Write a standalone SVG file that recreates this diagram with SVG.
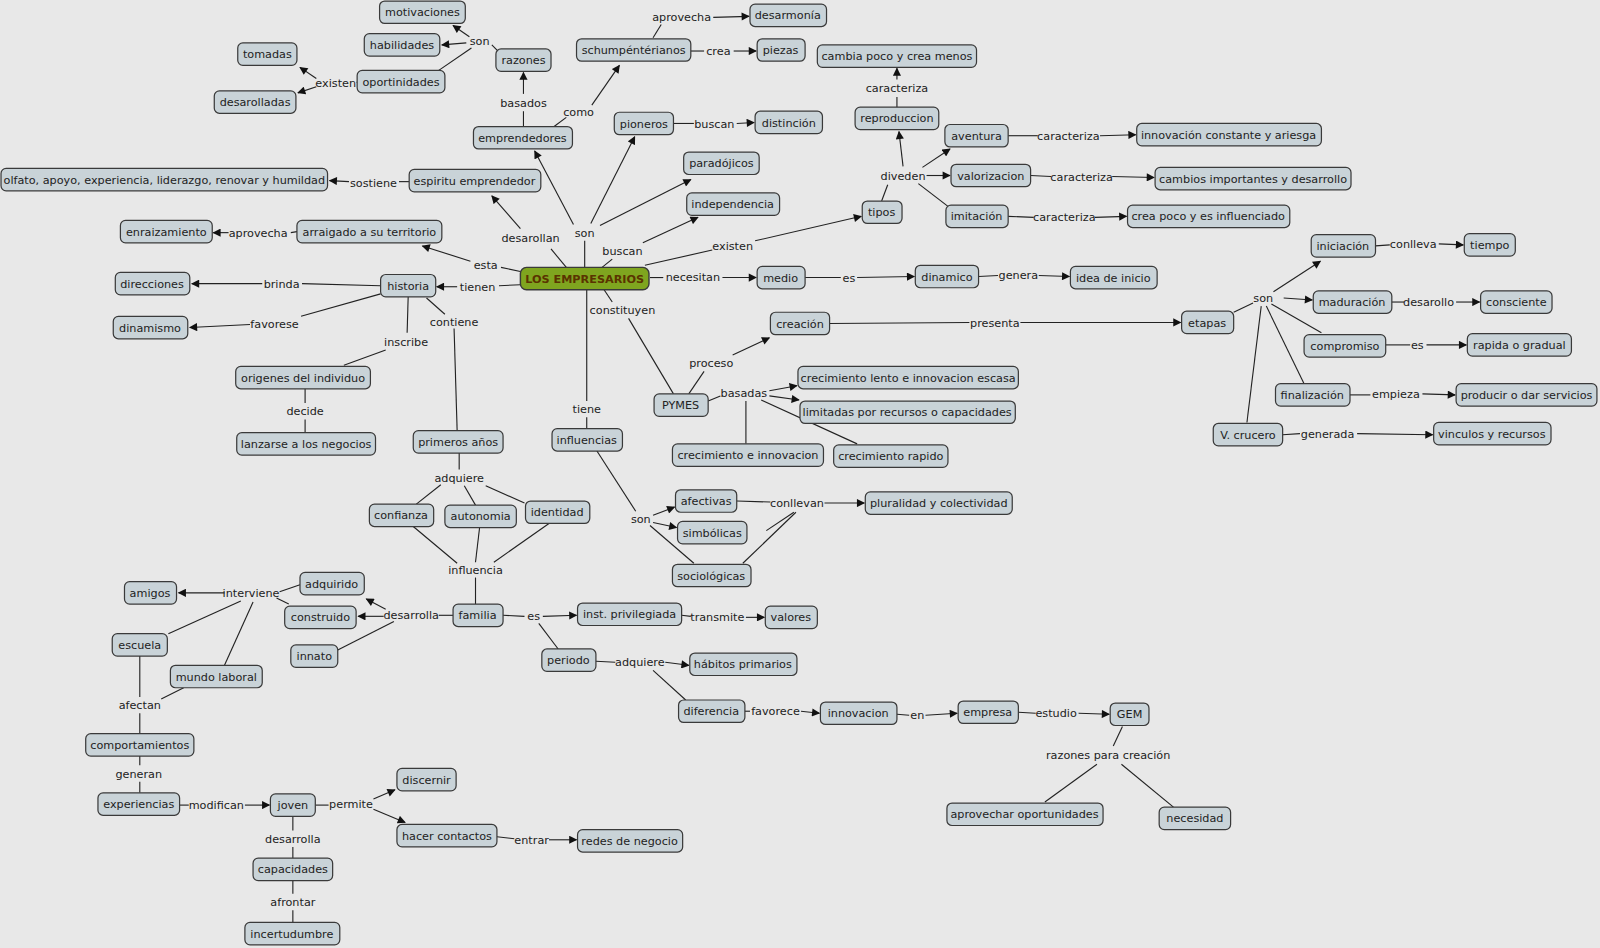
<svg xmlns="http://www.w3.org/2000/svg" width="1600" height="948" viewBox="0 0 1600 948">
<style>
.n rect{fill:#c9d3d8;stroke:#3a3a3a;stroke-width:1.2}
.n text,.l{font-family:"DejaVu Sans",Verdana,sans-serif;font-size:11px;fill:#222;text-anchor:middle}
.m rect{fill:#7fa51f;stroke:#3a3a3a;stroke-width:1.4}
.m text{font-family:"DejaVu Sans",sans-serif;font-size:11px;font-weight:bold;fill:#5a3300;text-anchor:middle}
#c line{stroke:#222;stroke-width:1.1}
#c line.a{marker-end:url(#ar)}
</style>
<defs><marker id="ar" viewBox="0 0 10 10" refX="9" refY="5" markerWidth="9" markerHeight="8" markerUnits="userSpaceOnUse" orient="auto"><path d="M0,0L10,5L0,10z" fill="#111"/></marker></defs>
<rect width="1600" height="948" fill="#e8e8e8"/>
<g transform="scale(1.0204)">
<g id="c">
<line x1="490" y1="52" x2="482" y2="44"/><line class="a" x1="460" y1="36" x2="444" y2="25"/><line class="a" x1="457" y1="42" x2="433" y2="44"/><line x1="462" y1="47" x2="430" y2="69"/>
<line x1="350" y1="80" x2="350" y2="81"/><line class="a" x1="310" y1="77" x2="294" y2="66"/><line class="a" x1="310" y1="85" x2="292" y2="91"/>
<line x1="513" y1="124" x2="513" y2="109"/><line class="a" x1="513" y1="92" x2="513" y2="71"/>
<line x1="543" y1="124" x2="555" y2="115"/><line class="a" x1="580" y1="103" x2="607" y2="64"/>
<line x1="640" y1="37" x2="648" y2="24"/><line class="a" x1="699" y1="17" x2="734" y2="16"/>
<line x1="677" y1="50" x2="690" y2="50"/><line class="a" x1="719" y1="50" x2="741" y2="50"/>
<line x1="879" y1="105" x2="879" y2="95"/><line class="a" x1="879" y1="78" x2="879" y2="67"/>
<line x1="573" y1="262" x2="573" y2="236"/><line class="a" x1="562" y1="220" x2="524" y2="148"/><line class="a" x1="579" y1="219" x2="622" y2="134"/><line class="a" x1="588" y1="221" x2="677" y2="176"/>
<line x1="590" y1="262" x2="600" y2="254"/><line class="a" x1="630" y1="238" x2="684" y2="213"/>
<line x1="555" y1="262" x2="540" y2="244"/><line class="a" x1="510" y1="224" x2="482" y2="192"/>
<line x1="401" y1="178" x2="391" y2="178"/><line class="a" x1="342" y1="178" x2="323" y2="177"/>
<line x1="510" y1="266" x2="491" y2="262"/><line class="a" x1="461" y1="256" x2="414" y2="241"/>
<line x1="291" y1="227" x2="285" y2="228"/><line class="a" x1="224" y1="228" x2="209" y2="228"/>
<line x1="510" y1="279" x2="489" y2="280"/><line class="a" x1="448" y1="281" x2="428" y2="281"/>
<line x1="660" y1="121" x2="680" y2="121"/><line class="a" x1="722" y1="121" x2="739" y2="120"/>
<line x1="632" y1="260" x2="698" y2="245"/><line class="a" x1="740" y1="236" x2="844" y2="212"/>
<line x1="864" y1="197" x2="870" y2="181"/><line class="a" x1="885" y1="163" x2="881" y2="129"/><line class="a" x1="904" y1="164" x2="931" y2="146"/><line class="a" x1="908" y1="172" x2="931" y2="172"/><line x1="900" y1="180" x2="930" y2="203"/>
<line x1="988" y1="133" x2="1017" y2="133"/><line class="a" x1="1078" y1="133" x2="1113" y2="132"/>
<line x1="1010" y1="172" x2="1030" y2="173"/><line class="a" x1="1090" y1="173" x2="1131" y2="174"/>
<line x1="988" y1="212" x2="1013" y2="213"/><line class="a" x1="1073" y1="213" x2="1104" y2="212"/>
<line x1="637" y1="272" x2="650" y2="272"/><line class="a" x1="708" y1="272" x2="741" y2="272"/>
<line x1="789" y1="272" x2="824" y2="272"/><line class="a" x1="840" y1="272" x2="896" y2="271"/>
<line x1="959" y1="271" x2="978" y2="270"/><line class="a" x1="1018" y1="270" x2="1048" y2="271"/>
<line x1="373" y1="280" x2="296" y2="278"/><line class="a" x1="257" y1="278" x2="188" y2="278"/>
<line x1="373" y1="288" x2="295" y2="310"/><line class="a" x1="245" y1="318" x2="186" y2="321"/>
<line x1="400" y1="291" x2="399" y2="326"/><line x1="378" y1="343" x2="337" y2="358"/>
<line x1="299" y1="381" x2="299" y2="395"/><line x1="299" y1="411" x2="299" y2="424"/>
<line x1="418" y1="292" x2="436" y2="308"/><line x1="445" y1="322" x2="448" y2="422"/>
<line x1="450" y1="444" x2="450" y2="460"/><line x1="432" y1="475" x2="408" y2="494"/><line x1="455" y1="476" x2="466" y2="495"/><line x1="476" y1="476" x2="514" y2="493"/>
<line x1="405" y1="516" x2="448" y2="552"/><line x1="470" y1="517" x2="466" y2="551"/><line x1="538" y1="513" x2="484" y2="551"/><line x1="466" y1="566" x2="466" y2="592"/>
<line x1="592" y1="284" x2="600" y2="296"/><line x1="616" y1="312" x2="660" y2="386"/>
<line x1="575" y1="284" x2="575" y2="393"/><line x1="575" y1="409" x2="575" y2="420"/>
<line x1="675" y1="386" x2="690" y2="364"/><line class="a" x1="718" y1="348" x2="754" y2="331"/>
<line x1="813" y1="317" x2="950" y2="316"/><line class="a" x1="1000" y1="316" x2="1157" y2="316"/>
<line x1="1209" y1="306" x2="1228" y2="297"/><line class="a" x1="1248" y1="286" x2="1294" y2="256"/><line class="a" x1="1258" y1="292" x2="1286" y2="294"/><line x1="1246" y1="298" x2="1295" y2="326"/><line x1="1241" y1="300" x2="1278" y2="376"/><line x1="1236" y1="300" x2="1222" y2="414"/>
<line x1="1348" y1="241" x2="1362" y2="240"/><line class="a" x1="1410" y1="239" x2="1434" y2="240"/>
<line x1="1364" y1="296" x2="1376" y2="296"/><line class="a" x1="1427" y1="296" x2="1450" y2="296"/>
<line x1="1358" y1="338" x2="1382" y2="338"/><line class="a" x1="1398" y1="338" x2="1437" y2="338"/>
<line x1="1323" y1="387" x2="1343" y2="387"/><line class="a" x1="1394" y1="386" x2="1426" y2="387"/>
<line x1="1257" y1="426" x2="1274" y2="425"/><line class="a" x1="1330" y1="425" x2="1404" y2="426"/>
<line x1="694" y1="393" x2="706" y2="388"/><line class="a" x1="754" y1="383" x2="781" y2="378"/><line class="a" x1="754" y1="388" x2="783" y2="392"/><line x1="731" y1="393" x2="731" y2="435"/><line x1="746" y1="392" x2="840" y2="435"/>
<line x1="585" y1="442" x2="623" y2="501"/><line class="a" x1="640" y1="505" x2="661" y2="497"/><line class="a" x1="640" y1="512" x2="663" y2="517"/><line x1="637" y1="515" x2="680" y2="552"/>
<line x1="722" y1="491" x2="755" y2="492"/><line x1="751" y1="520" x2="778" y2="502"/><line x1="728" y1="552" x2="780" y2="502"/><line class="a" x1="808" y1="493" x2="847" y2="493"/>
<line x1="444" y1="603" x2="430" y2="603"/><line class="a" x1="378" y1="597" x2="359" y2="587"/><line class="a" x1="376" y1="604" x2="351" y2="604"/><line x1="386" y1="609" x2="331" y2="637"/>
<line x1="493" y1="603" x2="514" y2="604"/><line class="a" x1="532" y1="604" x2="565" y2="603"/><line x1="528" y1="611" x2="547" y2="636"/>
<line x1="668" y1="603" x2="677" y2="604"/><line class="a" x1="731" y1="605" x2="749" y2="605"/>
<line x1="584" y1="648" x2="603" y2="649"/><line class="a" x1="652" y1="649" x2="675" y2="652"/><line x1="640" y1="657" x2="672" y2="686"/>
<line x1="730" y1="697" x2="735" y2="697"/><line class="a" x1="785" y1="697" x2="803" y2="699"/>
<line x1="879" y1="700" x2="891" y2="701"/><line class="a" x1="907" y1="701" x2="938" y2="699"/>
<line x1="998" y1="698" x2="1015" y2="699"/><line class="a" x1="1057" y1="699" x2="1087" y2="700"/>
<line x1="1100" y1="712" x2="1091" y2="731"/><line x1="1075" y1="749" x2="1024" y2="786"/><line x1="1099" y1="749" x2="1150" y2="791"/>
<line x1="294" y1="573" x2="274" y2="580"/><line x1="271" y1="586" x2="283" y2="592"/><line class="a" x1="220" y1="581" x2="175" y2="581"/><line x1="236" y1="589" x2="165" y2="621"/><line x1="248" y1="590" x2="220" y2="652"/>
<line x1="137" y1="643" x2="137" y2="683"/><line x1="180" y1="674" x2="158" y2="685"/><line x1="137" y1="699" x2="137" y2="719"/>
<line x1="137" y1="741" x2="137" y2="750"/><line x1="137" y1="766" x2="137" y2="777"/>
<line x1="176" y1="789" x2="185" y2="789"/><line class="a" x1="240" y1="789" x2="264" y2="789"/>
<line x1="309" y1="789" x2="322" y2="789"/><line class="a" x1="366" y1="783" x2="387" y2="774"/><line class="a" x1="366" y1="793" x2="397" y2="806"/>
<line x1="487" y1="820" x2="504" y2="822"/><line class="a" x1="538" y1="823" x2="565" y2="823"/>
<line x1="287" y1="800" x2="287" y2="814"/><line x1="287" y1="830" x2="287" y2="841"/>
<line x1="287" y1="863" x2="287" y2="876"/><line x1="287" y1="892" x2="287" y2="904"/>
</g>
<g id="labels">
<text class="l" x="470" y="44">son</text><text class="l" x="329" y="85">existen</text><text class="l" x="513" y="105">basados</text><text class="l" x="567" y="114">como</text>
<text class="l" x="668" y="21">aprovecha</text><text class="l" x="704" y="54">crea</text><text class="l" x="879" y="90">caracteriza</text><text class="l" x="573" y="232">son</text>
<text class="l" x="610" y="250">buscan</text><text class="l" x="520" y="237">desarollan</text><text class="l" x="366" y="183">sostiene</text><text class="l" x="476" y="264">esta</text>
<text class="l" x="253" y="232">aprovecha</text><text class="l" x="468" y="285">tienen</text><text class="l" x="700" y="125">buscan</text><text class="l" x="718" y="245">existen</text>
<text class="l" x="885" y="176">diveden</text><text class="l" x="1047" y="137">caracteriza</text><text class="l" x="1060" y="177">caracteriza</text><text class="l" x="1043" y="217">caracteriza</text>
<text class="l" x="679" y="275">necesitan</text><text class="l" x="832" y="276">es</text><text class="l" x="998" y="273">genera</text><text class="l" x="276" y="282">brinda</text>
<text class="l" x="269" y="321">favorese</text><text class="l" x="398" y="339">inscribe</text><text class="l" x="299" y="407">decide</text><text class="l" x="445" y="319">contiene</text>
<text class="l" x="450" y="472">adquiere</text><text class="l" x="466" y="563">influencia</text><text class="l" x="610" y="308">constituyen</text><text class="l" x="575" y="405">tiene</text>
<text class="l" x="697" y="360">proceso</text><text class="l" x="975" y="320">presenta</text><text class="l" x="1238" y="296">son</text><text class="l" x="1385" y="243">conlleva</text>
<text class="l" x="1400" y="300">desarollo</text><text class="l" x="1389" y="342">es</text><text class="l" x="1368" y="390">empieza</text><text class="l" x="1301" y="429">generada</text>
<text class="l" x="729" y="389">basadas</text><text class="l" x="628" y="513">son</text><text class="l" x="781" y="497">conllevan</text><text class="l" x="403" y="607">desarrolla</text>
<text class="l" x="523" y="608">es</text><text class="l" x="703" y="609">transmite</text><text class="l" x="627" y="653">adquiere</text><text class="l" x="760" y="701">favorece</text>
<text class="l" x="899" y="705">en</text><text class="l" x="1035" y="703">estudio</text><text class="l" x="1086" y="744">razones para creación</text><text class="l" x="246" y="585">interviene</text>
<text class="l" x="137" y="695">afectan</text><text class="l" x="136" y="762">generan</text><text class="l" x="212" y="793">modifican</text><text class="l" x="344" y="792">permite</text>
<text class="l" x="521" y="827">entrar</text><text class="l" x="287" y="826">desarrolla</text><text class="l" x="287" y="888">afrontar</text>
</g>
<g id="main" class="m"><rect x="510" y="262" width="126" height="22" rx="6"/><text x="573" y="277">LOS EMPRESARIOS</text></g>
<g id="n1" class="n"><rect x="372" y="1" width="84" height="22" rx="5"/><text x="414" y="16">motivaciones</text></g>
<g id="n2" class="n"><rect x="357" y="33" width="74" height="22" rx="5"/><text x="394" y="48">habilidades</text></g>
<g id="n3" class="n"><rect x="486" y="48" width="54" height="22" rx="5"/><text x="513" y="63">razones</text></g>
<g id="n4" class="n"><rect x="233" y="42" width="58" height="22" rx="5"/><text x="262" y="57">tomadas</text></g>
<g id="n5" class="n"><rect x="350" y="69" width="86" height="22" rx="5"/><text x="393" y="84">oportinidades</text></g>
<g id="n6" class="n"><rect x="210" y="89" width="80" height="22" rx="5"/><text x="250" y="104">desarolladas</text></g>
<g id="n7" class="n"><rect x="565" y="38" width="112" height="22" rx="5"/><text x="621" y="53">schumpéntérianos</text></g>
<g id="n8" class="n"><rect x="735" y="4" width="75" height="22" rx="5"/><text x="772" y="19">desarmonía</text></g>
<g id="n9" class="n"><rect x="742" y="38" width="47" height="22" rx="5"/><text x="765" y="53">piezas</text></g>
<g id="n10" class="n"><rect x="801" y="44" width="156" height="22" rx="5"/><text x="879" y="59">cambia poco y crea menos</text></g>
<g id="n11" class="n"><rect x="464" y="124" width="97" height="22" rx="5"/><text x="512" y="139">emprendedores</text></g>
<g id="n12" class="n"><rect x="602" y="110" width="58" height="22" rx="5"/><text x="631" y="125">pioneros</text></g>
<g id="n13" class="n"><rect x="740" y="109" width="66" height="22" rx="5"/><text x="773" y="124">distinción</text></g>
<g id="n14" class="n"><rect x="838" y="105" width="82" height="22" rx="5"/><text x="879" y="120">reproduccion</text></g>
<g id="n15" class="n"><rect x="926" y="122" width="62" height="22" rx="5"/><text x="957" y="137">aventura</text></g>
<g id="n16" class="n"><rect x="1114" y="121" width="181" height="22" rx="5"/><text x="1204" y="136">innovación constante y ariesga</text></g>
<g id="n17" class="n"><rect x="670" y="149" width="74" height="22" rx="5"/><text x="707" y="164">paradójicos</text></g>
<g id="n18" class="n"><rect x="1" y="165" width="320" height="22" rx="5"/><text x="161" y="180">olfato, apoyo, experiencia, liderazgo, renovar y humildad</text></g>
<g id="n19" class="n"><rect x="401" y="166" width="129" height="22" rx="5"/><text x="465" y="181">espiritu emprendedor</text></g>
<g id="n20" class="n"><rect x="932" y="161" width="78" height="22" rx="5"/><text x="971" y="176">valorizacion</text></g>
<g id="n21" class="n"><rect x="1132" y="164" width="192" height="22" rx="5"/><text x="1228" y="179">cambios importantes y desarrollo</text></g>
<g id="n22" class="n"><rect x="673" y="189" width="91" height="22" rx="5"/><text x="718" y="204">independencia</text></g>
<g id="n23" class="n"><rect x="845" y="197" width="39" height="22" rx="5"/><text x="864" y="212">tipos</text></g>
<g id="n24" class="n"><rect x="927" y="201" width="61" height="22" rx="5"/><text x="957" y="216">imitación</text></g>
<g id="n25" class="n"><rect x="1105" y="201" width="159" height="22" rx="5"/><text x="1184" y="216">crea poco y es influenciado</text></g>
<g id="n26" class="n"><rect x="118" y="216" width="90" height="22" rx="5"/><text x="163" y="231">enraizamiento</text></g>
<g id="n27" class="n"><rect x="291" y="216" width="142" height="22" rx="5"/><text x="362" y="231">arraigado a su territorio</text></g>
<g id="n28" class="n"><rect x="1285" y="230" width="63" height="22" rx="5"/><text x="1316" y="245">iniciación</text></g>
<g id="n29" class="n"><rect x="1435" y="229" width="50" height="22" rx="5"/><text x="1460" y="244">tiempo</text></g>
<g id="n30" class="n"><rect x="113" y="267" width="73" height="22" rx="5"/><text x="149" y="282">direcciones</text></g>
<g id="n31" class="n"><rect x="373" y="269" width="54" height="22" rx="5"/><text x="400" y="284">historia</text></g>
<g id="n32" class="n"><rect x="742" y="261" width="47" height="22" rx="5"/><text x="765" y="276">medio</text></g>
<g id="n33" class="n"><rect x="897" y="260" width="62" height="22" rx="5"/><text x="928" y="275">dinamico</text></g>
<g id="n34" class="n"><rect x="1049" y="261" width="85" height="22" rx="5"/><text x="1091" y="276">idea de inicio</text></g>
<g id="n35" class="n"><rect x="1287" y="285" width="77" height="22" rx="5"/><text x="1325" y="300">maduración</text></g>
<g id="n36" class="n"><rect x="1451" y="285" width="70" height="22" rx="5"/><text x="1486" y="300">consciente</text></g>
<g id="n37" class="n"><rect x="111" y="310" width="73" height="22" rx="5"/><text x="147" y="325">dinamismo</text></g>
<g id="n38" class="n"><rect x="755" y="306" width="58" height="22" rx="5"/><text x="784" y="321">creación</text></g>
<g id="n39" class="n"><rect x="1158" y="305" width="51" height="22" rx="5"/><text x="1183" y="320">etapas</text></g>
<g id="n40" class="n"><rect x="1278" y="328" width="80" height="22" rx="5"/><text x="1318" y="343">compromiso</text></g>
<g id="n41" class="n"><rect x="1438" y="327" width="102" height="22" rx="5"/><text x="1489" y="342">rapida o gradual</text></g>
<g id="n42" class="n"><rect x="231" y="359" width="132" height="22" rx="5"/><text x="297" y="374">origenes del individuo</text></g>
<g id="n43" class="n"><rect x="782" y="359" width="216" height="22" rx="5"/><text x="890" y="374">crecimiento lento e innovacion escasa</text></g>
<g id="n44" class="n"><rect x="641" y="386" width="53" height="22" rx="5"/><text x="667" y="401">PYMES</text></g>
<g id="n45" class="n"><rect x="784" y="393" width="211" height="22" rx="5"/><text x="889" y="408">limitadas por recursos o capacidades</text></g>
<g id="n46" class="n"><rect x="1250" y="376" width="73" height="22" rx="5"/><text x="1286" y="391">finalización</text></g>
<g id="n47" class="n"><rect x="1427" y="376" width="138" height="22" rx="5"/><text x="1496" y="391">producir o dar servicios</text></g>
<g id="n48" class="n"><rect x="1189" y="415" width="68" height="22" rx="5"/><text x="1223" y="430">V. crucero</text></g>
<g id="n49" class="n"><rect x="1405" y="414" width="115" height="22" rx="5"/><text x="1462" y="429">vinculos y recursos</text></g>
<g id="n50" class="n"><rect x="232" y="424" width="136" height="22" rx="5"/><text x="300" y="439">lanzarse a los negocios</text></g>
<g id="n51" class="n"><rect x="405" y="422" width="88" height="22" rx="5"/><text x="449" y="437">primeros años</text></g>
<g id="n52" class="n"><rect x="541" y="420" width="69" height="22" rx="5"/><text x="575" y="435">influencias</text></g>
<g id="n53" class="n"><rect x="659" y="435" width="148" height="22" rx="5"/><text x="733" y="450">crecimiento e innovacion</text></g>
<g id="n54" class="n"><rect x="817" y="436" width="112" height="22" rx="5"/><text x="873" y="451">crecimiento rapido</text></g>
<g id="n55" class="n"><rect x="662" y="480" width="60" height="22" rx="5"/><text x="692" y="495">afectivas</text></g>
<g id="n56" class="n"><rect x="848" y="482" width="144" height="22" rx="5"/><text x="920" y="497">pluralidad y colectividad</text></g>
<g id="n57" class="n"><rect x="362" y="494" width="63" height="22" rx="5"/><text x="393" y="509">confianza</text></g>
<g id="n58" class="n"><rect x="436" y="495" width="70" height="22" rx="5"/><text x="471" y="510">autonomia</text></g>
<g id="n59" class="n"><rect x="515" y="491" width="63" height="22" rx="5"/><text x="546" y="506">identidad</text></g>
<g id="n60" class="n"><rect x="664" y="511" width="68" height="22" rx="5"/><text x="698" y="526">simbólicas</text></g>
<g id="n61" class="n"><rect x="659" y="553" width="77" height="22" rx="5"/><text x="697" y="568">sociológicas</text></g>
<g id="n62" class="n"><rect x="294" y="561" width="63" height="22" rx="5"/><text x="325" y="576">adquirido</text></g>
<g id="n63" class="n"><rect x="122" y="570" width="51" height="22" rx="5"/><text x="147" y="585">amigos</text></g>
<g id="n64" class="n"><rect x="279" y="594" width="70" height="22" rx="5"/><text x="314" y="609">construido</text></g>
<g id="n65" class="n"><rect x="444" y="592" width="49" height="22" rx="5"/><text x="468" y="607">familia</text></g>
<g id="n66" class="n"><rect x="566" y="591" width="102" height="22" rx="5"/><text x="617" y="606">inst. privilegiada</text></g>
<g id="n67" class="n"><rect x="750" y="594" width="51" height="22" rx="5"/><text x="775" y="609">valores</text></g>
<g id="n68" class="n"><rect x="110" y="621" width="54" height="22" rx="5"/><text x="137" y="636">escuela</text></g>
<g id="n69" class="n"><rect x="285" y="632" width="46" height="22" rx="5"/><text x="308" y="647">innato</text></g>
<g id="n70" class="n"><rect x="531" y="636" width="53" height="22" rx="5"/><text x="557" y="651">periodo</text></g>
<g id="n71" class="n"><rect x="676" y="640" width="105" height="22" rx="5"/><text x="728" y="655">hábitos primarios</text></g>
<g id="n72" class="n"><rect x="167" y="652" width="90" height="22" rx="5"/><text x="212" y="667">mundo laboral</text></g>
<g id="n73" class="n"><rect x="665" y="686" width="65" height="22" rx="5"/><text x="697" y="701">diferencia</text></g>
<g id="n74" class="n"><rect x="804" y="688" width="75" height="22" rx="5"/><text x="841" y="703">innovacion</text></g>
<g id="n75" class="n"><rect x="939" y="687" width="59" height="22" rx="5"/><text x="968" y="702">empresa</text></g>
<g id="n76" class="n"><rect x="1088" y="689" width="38" height="22" rx="5"/><text x="1107" y="704">GEM</text></g>
<g id="n77" class="n"><rect x="84" y="719" width="106" height="22" rx="5"/><text x="137" y="734">comportamientos</text></g>
<g id="n78" class="n"><rect x="389" y="753" width="58" height="22" rx="5"/><text x="418" y="768">discernir</text></g>
<g id="n79" class="n"><rect x="96" y="777" width="80" height="22" rx="5"/><text x="136" y="792">experiencias</text></g>
<g id="n80" class="n"><rect x="265" y="778" width="44" height="22" rx="5"/><text x="287" y="793">joven</text></g>
<g id="n81" class="n"><rect x="928" y="787" width="153" height="22" rx="5"/><text x="1004" y="802">aprovechar oportunidades</text></g>
<g id="n82" class="n"><rect x="1136" y="791" width="70" height="22" rx="5"/><text x="1171" y="806">necesidad</text></g>
<g id="n83" class="n"><rect x="389" y="808" width="98" height="22" rx="5"/><text x="438" y="823">hacer contactos</text></g>
<g id="n84" class="n"><rect x="566" y="813" width="103" height="22" rx="5"/><text x="617" y="828">redes de negocio</text></g>
<g id="n85" class="n"><rect x="248" y="841" width="78" height="22" rx="5"/><text x="287" y="856">capacidades</text></g>
<g id="n86" class="n"><rect x="240" y="904" width="93" height="22" rx="5"/><text x="286" y="919">incertudumbre</text></g>
</g>
</svg>
